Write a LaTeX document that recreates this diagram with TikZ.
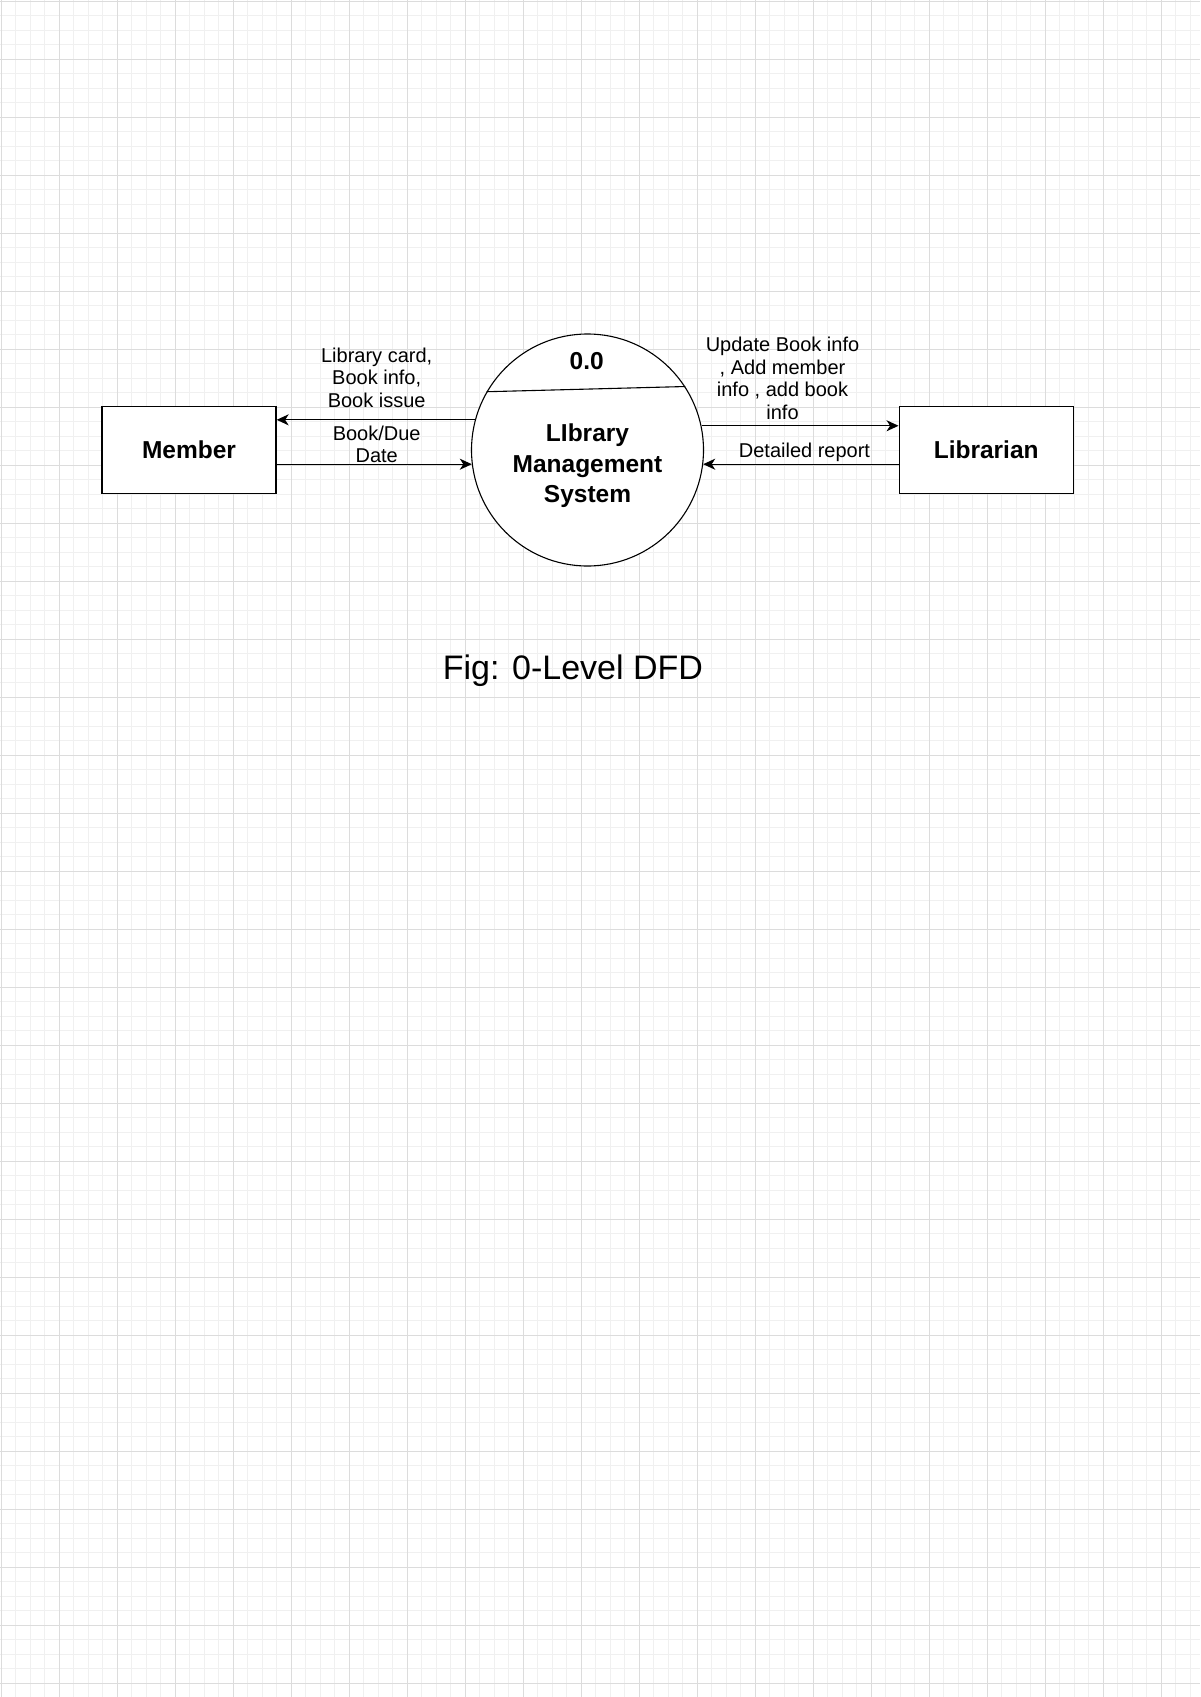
\documentclass[tikz,border=0pt]{standalone}
\usepackage{fontspec}
\setmainfont{Liberation Sans}
\usetikzlibrary{arrows.meta}
\definecolor{gridminor}{HTML}{F0F0F0}
\definecolor{gridmajor}{HTML}{DCDCDC}
\tikzset{
  minorgrid/.style={draw=gridminor, line width=1pt},
  majorgrid/.style={draw=gridmajor, line width=1.5pt},
  entity/.style={draw=black, line width=1.3pt, fill=white, rectangle,
    minimum width=174pt, minimum height=87pt, inner sep=0pt,
    font=\fontsize{24.5}{30.3}\selectfont\bfseries},
  process/.style={draw=black, line width=1.1pt, fill=white, circle,
    minimum size=232pt, inner sep=0pt},
  proctext/.style={inner sep=0pt, align=center,
    font=\fontsize{24.5}{30.3}\selectfont\bfseries},
  flowlabel/.style={inner sep=0pt, align=center,
    font=\fontsize{20}{22.7}\selectfont},
  flow/.style={draw=black, line width=1.3pt,
    -{Stealth[length=12pt, width=11pt, inset=3.5pt]}},
  divider/.style={draw=black, line width=1.1pt},
  caption/.style={inner sep=0pt, font=\fontsize{34}{40}\selectfont}
}
\begin{document}
\begin{tikzpicture}[x=1pt, y=-1pt]
  \useasboundingbox (0,0) rectangle (1200,1697);
  \fill[white] (0,0) rectangle (1200,1697);
  % grid
  \foreach \k in {0,...,82} {\draw[minorgrid] ({1.3+14.5*\k},0) -- ({1.3+14.5*\k},1697);}
  \foreach \k in {0,...,116} {\draw[minorgrid] (0,{1.3+14.5*\k}) -- (1200,{1.3+14.5*\k});}
  \foreach \k in {0,...,20} {\draw[majorgrid] ({1.3+58*\k},0) -- ({1.3+58*\k},1697);}
  \foreach \k in {0,...,29} {\draw[majorgrid] (0,{1.3+58*\k}) -- (1200,{1.3+58*\k});}

  % nodes
  \node[entity] (member) at (189,449.7) {Member};
  \node[entity] (librarian) at (986.2,449.8) {Librarian};
  \node[process] (proc) at (587.5,450) {};
  \draw[divider] (proc.150.1) -- (proc.33.9);
  \node[proctext] (procid) at (586.7,361.3) {0.0};
  \node[proctext] (procname) at (587.5,465.9) {LIbrary\\Management\\System};

  % flows
  \draw[flow] (proc.165.37) -- (proc.165.37 -| member.east);
  \draw[flow] (proc.187.08 -| member.east) -- (proc.187.08);
  \draw[flow] (proc.12.95) -- (proc.12.95 -| librarian.west);
  \draw[flow] (proc.-7.93 -| librarian.west) -- (proc.-7.93);

  % labels
  \node[flowlabel] (l1) at (376.7,377.7) {Library card,\\Book info,\\Book issue};
  \node[flowlabel] (l2) at (376.7,444.4) {Book/Due\\Date};
  \node[flowlabel] (l3) at (782.5,378.4) {Update Book info\\, Add member\\info , add book\\info};
  \node[flowlabel] (l4) at (804.5,452.5) {Detailed report};

  % caption
  \node[caption, anchor=base west] (cap) at (442.7,679.3) {Fig: 0-Level DFD};
\end{tikzpicture}
\end{document}
